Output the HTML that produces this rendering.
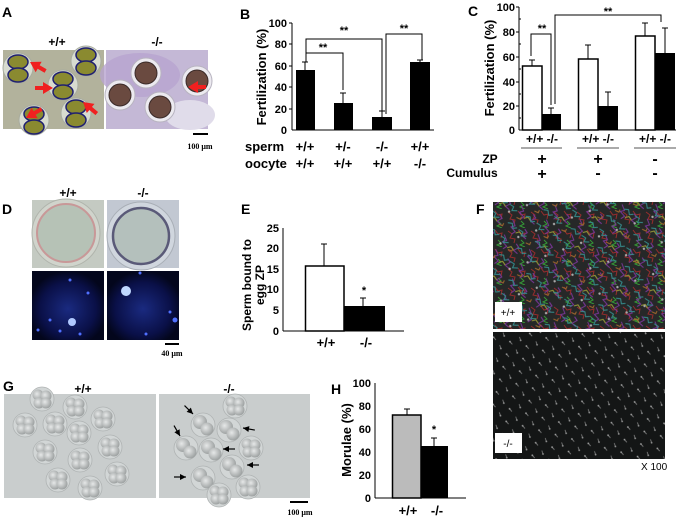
<!DOCTYPE html>
<html><head><meta charset="utf-8"><style>
html,body{margin:0;padding:0;background:#fff;}
svg{display:block;}
text{font-family:"Liberation Sans",Arial,sans-serif;font-weight:bold;fill:#000;}
</style></head><body>
<svg width="684" height="520" viewBox="0 0 684 520" xmlns="http://www.w3.org/2000/svg">
<defs>
<pattern id="tr1" width="23" height="19" patternUnits="userSpaceOnUse">
<path d="M2 3l4 3-2 4 5 1-1 4M12 2l3 4 4-1-1 5" stroke="#e03030" stroke-width="1" fill="none"/>
<path d="M15 12l3 3-4 2 5 2" stroke="#40e040" stroke-width="1" fill="none"/>
</pattern>
<pattern id="tr2" width="29" height="17" patternUnits="userSpaceOnUse" patternTransform="rotate(30)">
<path d="M3 2l5 4-3 3 6 2-2 4M18 4l4 2-3 5 5 1" stroke="#b040e0" stroke-width="1" fill="none"/>
<path d="M12 12l3-3 4 2" stroke="#e0e040" stroke-width="1" fill="none"/>
</pattern>
<pattern id="tr3" width="19" height="27" patternUnits="userSpaceOnUse" patternTransform="rotate(-20)">
<path d="M2 5l4 2-1 5 4 1M10 15l3 4-3 3 5 2" stroke="#40d0d0" stroke-width="1" fill="none"/>
<path d="M12 3l3 3 2 -2" stroke="#f09030" stroke-width="1" fill="none"/>
<circle cx="7" cy="22" r="1.2" fill="#fff"/>
</pattern>
<pattern id="sp" width="17" height="13" patternUnits="userSpaceOnUse" patternTransform="rotate(15)">
<path d="M3 3l3 2M11 9l2 3" stroke="#aaa" stroke-width="0.8"/>
<circle cx="3" cy="3" r="0.9" fill="#ddd"/><circle cx="13" cy="12" r="0.9" fill="#ccc"/>
</pattern>
<radialGradient id="dblue" cx="50%" cy="55%" r="55%"><stop offset="0" stop-color="#1a2a80"/><stop offset="0.7" stop-color="#0a1048"/><stop offset="1" stop-color="#03061c"/></radialGradient>
<radialGradient id="cell" cx="40%" cy="40%" r="60%"><stop offset="0" stop-color="#e6e8e8"/><stop offset="1" stop-color="#9ea2a2"/></radialGradient>
<g id="emb"><circle r="12" fill="#d2d6d6" stroke="#b0b4b4" stroke-width="0.8"/><circle cx="-4" cy="-4" r="5.5" fill="url(#cell)"/><circle cx="4" cy="-3" r="5.5" fill="url(#cell)"/><circle cx="-3" cy="4" r="5.5" fill="url(#cell)"/><circle cx="4" cy="4" r="5.5" fill="url(#cell)"/></g>
<g id="emb2"><circle r="12" fill="#d2d6d6" stroke="#b0b4b4" stroke-width="0.8"/><circle cx="-3" cy="-3" r="7" fill="url(#cell)"/><circle cx="4" cy="4" r="6.5" fill="url(#cell)"/></g>
<g id="yA"><circle r="15" fill="#d8dcd0" stroke="#a8aca0"/><ellipse cx="0" cy="-6" rx="10" ry="7" fill="#8a8a30" stroke="#202070" stroke-width="1.5"/><ellipse cx="0" cy="7" rx="10" ry="7" fill="#8a8a30" stroke="#202070" stroke-width="1.5"/></g>
<g id="bA"><circle r="15" fill="#eceaf0" stroke="#b8b4c0"/><circle r="11" fill="#6a4a40" stroke="#3a2a28"/></g>
<g id="ar"><path d="M0 0l-10-6 0 4-8 0 0 4 8 0 0 4z" fill="#f02020"/></g>
<g id="bk"><line x1="0" y1="0" x2="-12" y2="0" stroke="#000" stroke-width="1.2"/><path d="M0 0l-6-3v6z" fill="#000"/></g>
</defs>

<!-- A -->
<text x="2" y="17" font-size="14">A</text>
<text x="57" y="46" font-size="12" text-anchor="middle">+/+</text>
<text x="157" y="46" font-size="12" text-anchor="middle">-/-</text>
<rect x="3" y="50" width="101" height="79" fill="#b2b29c"/>
<use href="#yA" x="18" y="68"/><use href="#yA" x="63" y="85"/><use href="#yA" x="86" y="61"/><use href="#yA" x="76" y="113"/><use href="#yA" x="34" y="120"/>
<use href="#ar" transform="translate(30,62) rotate(210)"/><use href="#ar" transform="translate(53,88)"/><use href="#ar" transform="translate(83,102) rotate(220)"/><use href="#ar" transform="translate(26,118) rotate(-30) scale(-1,1)"/>
<rect x="106" y="50" width="102" height="79" fill="#c4b8d6"/>
<ellipse cx="140" cy="75" rx="40" ry="22" fill="#b8a4d0" opacity="0.8"/>
<ellipse cx="190" cy="115" rx="25" ry="15" fill="#e0dcea"/>
<use href="#bA" x="120" y="95"/><use href="#bA" x="146" y="73"/><use href="#bA" x="160" y="107"/><use href="#bA" x="197" y="81"/>
<use href="#ar" transform="translate(188,87) rotate(180)"/>
<rect x="193" y="133" width="15" height="2" fill="#000"/>
<text x="200" y="149" font-size="8" text-anchor="middle" style="font-family:'Liberation Serif',serif">100 μm</text>

<!-- B -->
<text x="240" y="19" font-size="14">B</text>
<g font-size="11" text-anchor="end">
<text x="287" y="27">100</text><text x="287" y="48">80</text><text x="287" y="70">60</text><text x="287" y="91">40</text><text x="287" y="113">20</text><text x="287" y="134">0</text></g>
<g stroke="#000" stroke-width="1"><line x1="292" y1="23" x2="292" y2="130"/><line x1="292" y1="130" x2="434" y2="130"/>
<line x1="289" y1="23" x2="292" y2="23"/><line x1="289" y1="44" x2="292" y2="44"/><line x1="289" y1="66" x2="292" y2="66"/><line x1="289" y1="87" x2="292" y2="87"/><line x1="289" y1="109" x2="292" y2="109"/></g>
<text transform="translate(266,77) rotate(-90)" font-size="13" text-anchor="middle">Fertilization (%)</text>
<rect x="296" y="70" width="19" height="60"/><rect x="334" y="103" width="19" height="27"/><rect x="372" y="117" width="20" height="13"/><rect x="410" y="62" width="20" height="68"/>
<g stroke="#000" stroke-width="1" fill="none">
<path d="M305 70V62M302 62h6M343 103V93M340 93h6M382 117V111M379 111h6M420 62V60M417 60h6"/>
<path d="M306 60V39H382V114"/><path d="M306 62V53H343V90"/><path d="M386 114V34H422V60"/></g>
<text x="344" y="34" font-size="11" text-anchor="middle">**</text>
<text x="323" y="51" font-size="11" text-anchor="middle">**</text>
<text x="404" y="32" font-size="11" text-anchor="middle">**</text>
<g font-size="13"><text x="245" y="151">sperm</text><text x="245" y="168">oocyte</text></g>
<g font-size="13" text-anchor="middle"><text x="305" y="151">+/+</text><text x="343" y="151">+/-</text><text x="382" y="151">-/-</text><text x="420" y="151">+/+</text>
<text x="305" y="168">+/+</text><text x="343" y="168">+/+</text><text x="382" y="168">+/+</text><text x="420" y="168">-/-</text></g>

<!-- C -->
<text x="468" y="16" font-size="14">C</text>
<g font-size="11" text-anchor="end">
<text x="515" y="11">100</text><text x="515" y="36">80</text><text x="515" y="61">60</text><text x="515" y="86">40</text><text x="515" y="110">20</text><text x="515" y="134">0</text></g>
<g stroke="#000" stroke-width="1"><line x1="519" y1="7" x2="519" y2="130"/><line x1="519" y1="130" x2="676" y2="130"/>
<path d="M516 7h3M516 32h3M516 57h3M516 82h3M516 106h3M519 19h2M519 44h2M519 69h2M519 94h2M519 118h2"/></g>
<text transform="translate(494,68) rotate(-90)" font-size="13" text-anchor="middle">Fertilization (%)</text>
<g stroke="#000" stroke-width="1.5"><rect x="522.5" y="66" width="19.5" height="64" fill="#fff"/><rect x="578.5" y="59" width="19.5" height="71" fill="#fff"/><rect x="635.5" y="36" width="19.5" height="94" fill="#fff"/></g>
<rect x="542" y="114" width="19" height="16"/><rect x="598" y="106" width="20" height="24"/><rect x="655" y="53" width="20" height="77"/>
<g stroke="#000" stroke-width="1" fill="none">
<path d="M532 66V60M529 60h6M551 114V108M548 108h6M588 59V45M585 45h6M608 106V92M605 92h6M645 36V23M642 23h6M665 53V28M662 28h6"/>
<path d="M531 56V34H551V105"/><path d="M555 104V15H661V22"/></g>
<text x="542" y="32" font-size="11" text-anchor="middle">**</text>
<text x="608" y="15" font-size="11" text-anchor="middle">**</text>
<g font-size="12" text-anchor="middle"><text x="542" y="143">+/+ -/-</text><text x="598" y="143">+/+ -/-</text><text x="655" y="143">+/+ -/-</text></g>
<g stroke="#555" stroke-width="1"><line x1="521" y1="148" x2="562" y2="148"/><line x1="577" y1="148" x2="619" y2="148"/><line x1="634" y1="148" x2="676" y2="148"/></g>
<text x="490" y="163" font-size="12" text-anchor="middle">ZP</text><text x="472" y="177" font-size="12" text-anchor="middle">Cumulus</text>
<g font-size="16" text-anchor="middle"><text x="542" y="164">+</text><text x="542" y="179">+</text><text x="598" y="164">+</text><text x="598" y="178">-</text><text x="655" y="164">-</text><text x="655" y="178">-</text></g>

<!-- D -->
<text x="2" y="214" font-size="14">D</text>
<text x="68" y="197" font-size="12" text-anchor="middle">+/+</text>
<text x="143" y="197" font-size="12" text-anchor="middle">-/-</text>
<rect x="32" y="200" width="72" height="68" fill="#c4cac2"/>
<circle cx="66" cy="233" r="34" fill="#d0d4cc" stroke="#b0b4ac"/>
<circle cx="66" cy="233" r="29" fill="#b6c2b6" stroke="#c89898" stroke-width="2"/>
<rect x="107" y="200" width="72" height="68" fill="#c2c8d2"/>
<circle cx="141" cy="236" r="34" fill="#d0d6de" stroke="#a8aeb6"/>
<circle cx="141" cy="236" r="28" fill="#b4c0bc" stroke="#5a5a78" stroke-width="2.5"/>
<rect x="32" y="271" width="72" height="69" fill="url(#dblue)"/>
<rect x="107" y="271" width="72" height="69" fill="url(#dblue)"/>
<g fill="#5070ff"><circle cx="72" cy="322" r="4" fill="#b0c8ff"/><circle cx="50" cy="320" r="1.5"/><circle cx="60" cy="331" r="1.5"/><circle cx="80" cy="334" r="1.5"/><circle cx="88" cy="293" r="1.5"/><circle cx="70" cy="280" r="1.5"/><circle cx="38" cy="330" r="1.5"/>
<circle cx="126" cy="291" r="5" fill="#c0d8ff"/><circle cx="175" cy="320" r="2.5"/><circle cx="146" cy="334" r="1.5"/><circle cx="170" cy="312" r="1.5"/><circle cx="140" cy="273" r="1.5"/></g>
<rect x="165" y="343" width="14" height="2" fill="#000"/>
<text x="172" y="356" font-size="8" text-anchor="middle" style="font-family:'Liberation Serif',serif">40 μm</text>

<!-- E -->
<text x="241" y="214" font-size="14">E</text>
<g font-size="11" text-anchor="end"><text x="279" y="232">25</text><text x="279" y="252">20</text><text x="279" y="273">15</text><text x="279" y="293">10</text><text x="279" y="314">5</text><text x="279" y="335">0</text></g>
<g stroke="#000" stroke-width="1"><line x1="283" y1="228" x2="283" y2="331"/><line x1="283" y1="331" x2="404" y2="331"/></g>
<text transform="translate(251,285) rotate(-90)" font-size="12" text-anchor="middle">Sperm bound to</text>
<text transform="translate(264,285) rotate(-90)" font-size="12" text-anchor="middle">egg ZP</text>
<rect x="305.5" y="266" width="38.5" height="65" fill="#fff" stroke="#000" stroke-width="1.5"/>
<rect x="344" y="306" width="41" height="25"/>
<g stroke="#000" stroke-width="1"><path d="M324 266V244M321 244h6M363 306V298M360 298h6"/></g>
<text x="364" y="294" font-size="11" text-anchor="middle">*</text>
<g font-size="13" text-anchor="middle"><text x="326" y="347">+/+</text><text x="366" y="347">-/-</text></g>

<!-- F -->
<text x="476" y="214" font-size="14">F</text>
<rect x="493" y="202" width="172" height="127" fill="#262828"/>
<g opacity="0.6">
<rect x="493" y="202" width="172" height="127" fill="url(#tr1)"/>
<rect x="493" y="202" width="172" height="127" fill="url(#tr2)"/>
<rect x="493" y="202" width="172" height="127" fill="url(#tr3)"/></g>
<rect x="493" y="332" width="172" height="127" fill="#141616"/>
<rect x="493" y="332" width="172" height="127" fill="url(#sp)" opacity="0.7"/>
<rect x="495" y="302" width="27" height="20" fill="#fff"/>
<text x="508" y="316" font-size="10" text-anchor="middle" style="font-weight:normal">+/+</text>
<rect x="495" y="433" width="27" height="20" fill="#fff"/>
<text x="508" y="447" font-size="10" text-anchor="middle" style="font-weight:normal">-/-</text>
<text x="641" y="470" font-size="10" style="font-weight:normal">X 100</text>

<!-- G -->
<text x="3" y="391" font-size="14">G</text>
<text x="83" y="393" font-size="12" text-anchor="middle">+/+</text>
<text x="229" y="393" font-size="12" text-anchor="middle">-/-</text>
<rect x="4" y="394" width="152" height="104" fill="#c9cdcd"/>
<use href="#emb" x="25" y="425"/><use href="#emb" x="42" y="399"/><use href="#emb" x="75" y="407"/><use href="#emb" x="55" y="424"/><use href="#emb" x="103" y="419"/><use href="#emb" x="79" y="433"/><use href="#emb" x="110" y="447"/><use href="#emb" x="45" y="452"/><use href="#emb" x="80" y="460"/><use href="#emb" x="117" y="474"/><use href="#emb" x="58" y="480"/><use href="#emb" x="90" y="488"/>
<rect x="159" y="394" width="151" height="104" fill="#c9cdcd"/>
<use href="#emb" x="235" y="406"/><use href="#emb2" x="203" y="425"/><use href="#emb2" x="229" y="430"/><use href="#emb2" x="186" y="448"/><use href="#emb2" x="211" y="450"/><use href="#emb" x="251" y="448"/><use href="#emb2" x="232" y="467"/><use href="#emb2" x="203" y="478"/><use href="#emb" x="248" y="487"/><use href="#emb" x="219" y="495"/>
<use href="#bk" transform="translate(193,414) rotate(45)"/><use href="#bk" transform="translate(180,436) rotate(60)"/><use href="#bk" transform="translate(243,428) rotate(190)"/><use href="#bk" transform="translate(223,449) rotate(180)"/><use href="#bk" transform="translate(247,465) rotate(180)"/><use href="#bk" transform="translate(186,477)"/>
<rect x="290" y="501" width="18" height="2" fill="#000"/>
<text x="300" y="515" font-size="8" text-anchor="middle" style="font-family:'Liberation Serif',serif">100 μm</text>

<!-- H -->
<text x="331" y="394" font-size="14">H</text>
<g font-size="11" text-anchor="end"><text x="371" y="387">100</text><text x="371" y="410">80</text><text x="371" y="433">60</text><text x="371" y="456">40</text><text x="371" y="479">20</text><text x="371" y="502">0</text></g>
<g stroke="#000" stroke-width="1"><line x1="375" y1="383" x2="375" y2="498"/><line x1="375" y1="498" x2="466" y2="498"/></g>
<text transform="translate(351,440) rotate(-90)" font-size="13" text-anchor="middle">Morulae (%)</text>
<rect x="392.5" y="415" width="28.5" height="83" fill="#bbbbbb" stroke="#000" stroke-width="1.5"/>
<rect x="421" y="446" width="27" height="52"/>
<g stroke="#000" stroke-width="1"><path d="M407 415V409M404 409h6M434 446V438M431 438h6"/></g>
<text x="434" y="433" font-size="11" text-anchor="middle">*</text>
<g font-size="13" text-anchor="middle"><text x="408" y="515">+/+</text><text x="437" y="515">-/-</text></g>
</svg>
</body></html>
